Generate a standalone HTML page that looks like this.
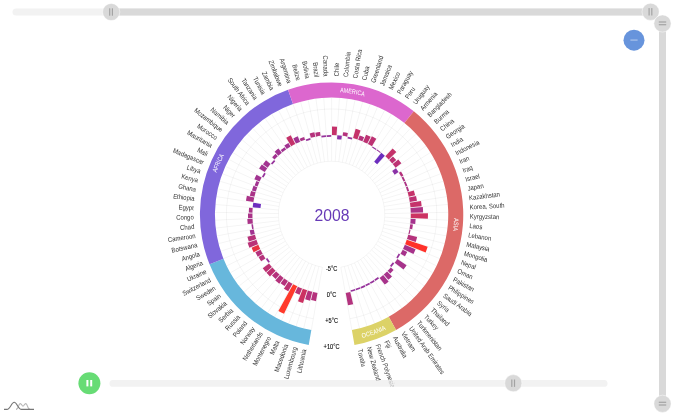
<!DOCTYPE html>
<html><head><meta charset="utf-8"><style>
html,body{margin:0;padding:0;background:#fff;overflow:hidden;}
svg{display:block;font-family:"Liberation Sans",sans-serif;-webkit-font-smoothing:antialiased;will-change:transform;}
</style></head><body>
<svg width="678" height="415" viewBox="0 0 678 415"><defs><clipPath id="chartclip"><rect x="0" y="0" width="678" height="386.6"/></clipPath></defs>
<g transform="translate(0,0.25) translate(331.6,214.4) scale(1,1.0045) translate(-331.6,-214.4)"><g fill="none" stroke="#000" stroke-opacity="0.055" stroke-width="0.8"><path d="M322.36,266.79A53.20,53.20 0 1 1 340.84,266.79"/><path d="M317.85,292.40A79.20,79.20 0 1 1 345.35,292.40"/><path d="M313.33,318.00A105.20,105.20 0 1 1 349.87,318.00"/><line x1="322.36" y1="266.79" x2="311.34" y2="329.28"/><line x1="318.85" y1="266.05" x2="303.65" y2="327.65"/><line x1="315.40" y1="265.07" x2="296.08" y2="325.51"/><line x1="312.02" y1="263.87" x2="288.68" y2="322.87"/><line x1="308.73" y1="262.44" x2="281.46" y2="319.73"/><line x1="305.55" y1="260.79" x2="274.48" y2="316.11"/><line x1="302.48" y1="258.93" x2="267.76" y2="312.03"/><line x1="299.55" y1="256.86" x2="261.32" y2="307.51"/><line x1="296.76" y1="254.61" x2="255.21" y2="302.56"/><line x1="294.13" y1="252.17" x2="249.44" y2="297.21"/><line x1="291.67" y1="249.56" x2="244.05" y2="291.49"/><line x1="289.39" y1="246.79" x2="239.06" y2="285.41"/><line x1="287.31" y1="243.87" x2="234.48" y2="279.01"/><line x1="285.42" y1="240.82" x2="230.35" y2="272.32"/><line x1="283.75" y1="237.65" x2="226.67" y2="265.37"/><line x1="282.29" y1="234.37" x2="223.48" y2="258.18"/><line x1="281.06" y1="231.00" x2="220.77" y2="250.80"/><line x1="280.05" y1="227.56" x2="218.57" y2="243.25"/><line x1="279.28" y1="224.05" x2="216.89" y2="235.57"/><line x1="278.75" y1="220.51" x2="215.72" y2="227.79"/><line x1="278.46" y1="216.93" x2="215.08" y2="219.95"/><line x1="278.41" y1="213.34" x2="214.97" y2="212.09"/><line x1="278.60" y1="209.76" x2="215.39" y2="204.23"/><line x1="279.04" y1="206.20" x2="216.34" y2="196.43"/><line x1="279.71" y1="202.68" x2="217.82" y2="188.70"/><line x1="280.61" y1="199.21" x2="219.81" y2="181.09"/><line x1="281.75" y1="195.81" x2="222.30" y2="173.64"/><line x1="283.12" y1="192.49" x2="225.30" y2="166.36"/><line x1="284.71" y1="189.28" x2="228.78" y2="159.31"/><line x1="286.51" y1="186.17" x2="232.72" y2="152.51"/><line x1="288.51" y1="183.20" x2="237.12" y2="145.98"/><line x1="290.71" y1="180.37" x2="241.94" y2="139.77"/><line x1="293.10" y1="177.69" x2="247.18" y2="133.90"/><line x1="295.66" y1="175.18" x2="252.79" y2="128.40"/><line x1="298.38" y1="172.84" x2="258.77" y2="123.28"/><line x1="301.26" y1="170.70" x2="265.07" y2="118.58"/><line x1="304.27" y1="168.76" x2="271.68" y2="114.32"/><line x1="307.41" y1="167.02" x2="278.56" y2="110.51"/><line x1="310.66" y1="165.50" x2="285.68" y2="107.17"/><line x1="314.00" y1="164.20" x2="293.01" y2="104.32"/><line x1="317.42" y1="163.12" x2="300.52" y2="101.97"/><line x1="320.91" y1="162.28" x2="308.16" y2="100.13"/><line x1="324.45" y1="161.68" x2="315.92" y2="98.81"/><line x1="328.02" y1="161.32" x2="323.74" y2="98.02"/><line x1="331.60" y1="161.20" x2="331.60" y2="97.75"/><line x1="335.18" y1="161.32" x2="339.46" y2="98.02"/><line x1="338.75" y1="161.68" x2="347.28" y2="98.81"/><line x1="342.29" y1="162.28" x2="355.04" y2="100.13"/><line x1="345.78" y1="163.12" x2="362.68" y2="101.97"/><line x1="349.20" y1="164.20" x2="370.19" y2="104.32"/><line x1="352.54" y1="165.50" x2="377.52" y2="107.17"/><line x1="355.79" y1="167.02" x2="384.64" y2="110.51"/><line x1="358.93" y1="168.76" x2="391.52" y2="114.32"/><line x1="361.94" y1="170.70" x2="398.13" y2="118.58"/><line x1="364.82" y1="172.84" x2="404.43" y2="123.28"/><line x1="367.54" y1="175.18" x2="410.41" y2="128.40"/><line x1="370.10" y1="177.69" x2="416.02" y2="133.90"/><line x1="372.49" y1="180.37" x2="421.26" y2="139.77"/><line x1="374.69" y1="183.20" x2="426.08" y2="145.98"/><line x1="376.69" y1="186.17" x2="430.48" y2="152.51"/><line x1="378.49" y1="189.28" x2="434.42" y2="159.31"/><line x1="380.08" y1="192.49" x2="437.90" y2="166.36"/><line x1="381.45" y1="195.81" x2="440.90" y2="173.64"/><line x1="382.59" y1="199.21" x2="443.39" y2="181.09"/><line x1="383.49" y1="202.68" x2="445.38" y2="188.70"/><line x1="384.16" y1="206.20" x2="446.86" y2="196.43"/><line x1="384.60" y1="209.76" x2="447.81" y2="204.23"/><line x1="384.79" y1="213.34" x2="448.23" y2="212.09"/><line x1="384.74" y1="216.93" x2="448.12" y2="219.95"/><line x1="384.45" y1="220.51" x2="447.48" y2="227.79"/><line x1="383.92" y1="224.05" x2="446.31" y2="235.57"/><line x1="383.15" y1="227.56" x2="444.63" y2="243.25"/><line x1="382.14" y1="231.00" x2="442.43" y2="250.80"/><line x1="380.91" y1="234.37" x2="439.72" y2="258.18"/><line x1="379.45" y1="237.65" x2="436.53" y2="265.37"/><line x1="377.78" y1="240.82" x2="432.85" y2="272.32"/><line x1="375.89" y1="243.87" x2="428.72" y2="279.01"/><line x1="373.81" y1="246.79" x2="424.14" y2="285.41"/><line x1="371.53" y1="249.56" x2="419.15" y2="291.49"/><line x1="369.07" y1="252.17" x2="413.76" y2="297.21"/><line x1="366.44" y1="254.61" x2="407.99" y2="302.56"/><line x1="363.65" y1="256.86" x2="401.88" y2="307.51"/><line x1="360.72" y1="258.93" x2="395.44" y2="312.03"/><line x1="357.65" y1="260.79" x2="388.72" y2="316.11"/><line x1="354.47" y1="262.44" x2="381.74" y2="319.73"/><line x1="351.18" y1="263.87" x2="374.52" y2="322.87"/><line x1="347.80" y1="265.07" x2="367.12" y2="325.51"/><line x1="344.35" y1="266.05" x2="359.55" y2="327.65"/><line x1="340.84" y1="266.79" x2="351.86" y2="329.28"/></g>
<g><path d="M316.00,300.52A87.52000000000001,87.52000000000001 0 0 1 311.03,299.47L312.99,291.38A79.2,79.2 0 0 0 317.48,292.33Z" fill="#b5327c"/><path d="M310.04,300.03A88.3,88.3 0 0 1 305.11,298.63L307.84,289.95A79.2,79.2 0 0 0 312.26,291.20Z" fill="#b5327c"/><path d="M303.03,302.34A92.46000000000001,92.46000000000001 0 0 1 297.98,300.53L302.80,288.18A79.2,79.2 0 0 0 307.13,289.72Z" fill="#cc3262"/><path d="M299.59,294.18A85.96000000000001,85.96000000000001 0 0 1 295.02,292.19L297.90,286.07A79.2,79.2 0 0 0 302.11,287.90Z" fill="#bd3273"/><path d="M284.02,313.16A109.62,109.62 0 0 1 278.38,310.23L293.15,283.64A79.2,79.2 0 0 0 297.22,285.75Z" fill="#ff3a2b"/><path d="M288.26,290.73A87.78,87.78 0 0 1 283.91,288.09L288.57,280.89A79.2,79.2 0 0 0 292.49,283.27Z" fill="#bd3273"/><path d="M284.65,285.47A85.18,85.18 0 0 1 280.60,282.63L284.19,277.84A79.2,79.2 0 0 0 287.94,280.48Z" fill="#b5327c"/><path d="M279.21,283.14A86.428,86.428 0 0 1 275.31,279.98L280.02,274.50A79.2,79.2 0 0 0 283.59,277.39Z" fill="#b5327c"/><path d="M275.62,278.39A85.024,85.024 0 0 1 272.00,275.04L276.09,270.89A79.2,79.2 0 0 0 279.45,274.01Z" fill="#b5327c"/><path d="M269.89,276.02A87.208,87.208 0 0 1 266.42,272.34L272.41,267.02A79.2,79.2 0 0 0 275.55,270.36Z" fill="#bd3273"/><path d="M265.92,271.69A87.156,87.156 0 0 1 262.71,267.78L268.99,262.91A79.2,79.2 0 0 0 271.91,266.46Z" fill="#bd3273"/><path d="M268.54,262.32A79.2,79.2 0 0 1 265.87,258.58L267.29,257.62A77.48400000000001,77.48400000000001 0 0 0 269.91,261.28Z" fill="#97339c"/><path d="M261.11,260.82A84.4,84.4 0 0 1 258.54,256.66L263.04,254.05A79.2,79.2 0 0 0 265.45,257.96Z" fill="#b5327c"/><path d="M257.69,256.22A84.92,84.92 0 0 1 255.39,251.87L260.52,249.34A79.2,79.2 0 0 0 262.67,253.40Z" fill="#b5327c"/><path d="M253.63,251.82A86.48,86.48 0 0 1 251.60,247.24L258.33,244.47A79.2,79.2 0 0 0 260.20,248.67Z" fill="#e83142"/><path d="M249.36,247.25A88.56,88.56 0 0 1 247.59,242.43L256.47,239.47A79.2,79.2 0 0 0 258.05,243.78Z" fill="#ba3277"/><path d="M248.82,241.16A87.0,87.0 0 0 1 247.40,236.31L254.95,234.35A79.2,79.2 0 0 0 256.24,238.76Z" fill="#b7327a"/><path d="M250.73,234.63A83.36,83.36 0 0 1 249.70,229.91L253.78,229.14A79.2,79.2 0 0 0 254.77,233.62Z" fill="#a23391"/><path d="M252.11,228.68A80.76,80.76 0 0 1 251.42,224.05L252.97,223.86A79.2,79.2 0 0 0 253.65,228.40Z" fill="#a23391"/><path d="M247.71,223.69A84.4,84.4 0 0 1 247.32,218.81L252.51,218.54A79.2,79.2 0 0 0 252.88,223.12Z" fill="#aa3388"/><path d="M248.06,217.98A83.62,83.62 0 0 1 247.99,213.14L252.41,213.20A79.2,79.2 0 0 0 252.47,217.80Z" fill="#aa3388"/><path d="M248.78,212.37A82.84,82.84 0 0 1 249.04,207.57L252.67,207.87A79.2,79.2 0 0 0 252.42,212.46Z" fill="#aa3388"/><path d="M252.73,207.12A79.2,79.2 0 0 1 253.29,202.57L261.00,203.73A71.4,71.4 0 0 0 260.50,207.84Z" fill="#6c2dbe"/><path d="M245.96,200.63A86.74000000000001,86.74000000000001 0 0 1 246.90,195.69L254.26,197.32A79.2,79.2 0 0 0 253.40,201.83Z" fill="#aa3388"/><path d="M249.87,195.53A83.88000000000001,83.88000000000001 0 0 1 251.10,190.83L255.59,192.14A79.2,79.2 0 0 0 254.43,196.59Z" fill="#aa3388"/><path d="M251.97,190.27A83.20400000000001,83.20400000000001 0 0 1 253.51,185.69L257.26,187.07A79.2,79.2 0 0 0 255.80,191.43Z" fill="#a23391"/><path d="M254.61,185.27A82.32000000000001,82.32000000000001 0 0 1 256.42,180.85L259.27,182.13A79.2,79.2 0 0 0 257.53,186.37Z" fill="#a23391"/><path d="M254.33,179.04A84.97200000000001,84.97200000000001 0 0 1 256.51,174.62L261.61,177.33A79.2,79.2 0 0 0 259.58,181.44Z" fill="#a23391"/><path d="M261.97,176.67A79.2,79.2 0 0 1 264.27,172.69L265.73,173.60A77.48400000000001,77.48400000000001 0 0 0 263.47,177.48Z" fill="#97339c"/><path d="M259.04,168.50A85.85600000000001,85.85600000000001 0 0 1 261.82,164.37L267.23,168.25A79.2,79.2 0 0 0 264.67,172.06Z" fill="#a23391"/><path d="M262.97,164.21A85.024,85.024 0 0 1 266.00,160.32L270.49,164.02A79.2,79.2 0 0 0 267.67,167.65Z" fill="#a23391"/><path d="M270.97,163.45A79.2,79.2 0 0 1 274.02,160.02L275.27,161.20A77.48400000000001,77.48400000000001 0 0 0 272.28,164.55Z" fill="#97339c"/><path d="M272.14,157.17A82.528,82.528 0 0 1 275.56,153.82L277.82,156.26A79.2,79.2 0 0 0 274.54,159.48Z" fill="#a23391"/><path d="M274.66,151.67A84.712,84.712 0 0 1 278.40,148.48L281.86,152.77A79.2,79.2 0 0 0 278.37,155.76Z" fill="#a23391"/><path d="M280.73,150.14A81.956,81.956 0 0 1 284.54,147.30L286.12,149.56A79.2,79.2 0 0 0 282.44,152.30Z" fill="#a23391"/><path d="M284.32,145.62A83.464,83.464 0 0 1 288.39,142.99L290.60,146.64A79.2,79.2 0 0 0 286.74,149.13Z" fill="#a23391"/><path d="M286.20,137.76A89.08,89.08 0 0 1 290.72,135.25L295.26,144.03A79.2,79.2 0 0 0 291.24,146.26Z" fill="#c5326a"/><path d="M293.30,138.49A85.024,85.024 0 0 1 297.76,136.40L300.08,141.74A79.2,79.2 0 0 0 295.92,143.69Z" fill="#a23391"/><path d="M299.67,138.86A82.00800000000001,82.00800000000001 0 0 1 304.11,137.14L305.05,139.78A79.2,79.2 0 0 0 300.77,141.45Z" fill="#aa3388"/><path d="M305.75,139.54A79.2,79.2 0 0 1 310.14,138.16L310.60,139.82A77.48400000000001,77.48400000000001 0 0 0 306.31,141.16Z" fill="#97339c"/><path d="M309.67,133.60A83.724,83.724 0 0 1 314.39,132.46L315.32,136.89A79.2,79.2 0 0 0 310.86,137.96Z" fill="#b5327c"/><path d="M315.29,132.92A83.10000000000001,83.10000000000001 0 0 1 320.04,132.11L320.58,135.97A79.2,79.2 0 0 0 316.05,136.74Z" fill="#b5327c"/><path d="M321.32,135.87A79.2,79.2 0 0 1 325.89,135.41L326.01,137.12A77.48400000000001,77.48400000000001 0 0 0 321.54,137.57Z" fill="#97339c"/><path d="M326.64,135.36A79.2,79.2 0 0 1 331.23,135.20L331.23,136.92A77.48400000000001,77.48400000000001 0 0 0 326.74,137.07Z" fill="#97339c"/><path d="M332.01,126.72A87.676,87.676 0 0 1 337.09,126.90L336.56,135.36A79.2,79.2 0 0 0 331.97,135.20Z" fill="#c5326a"/><path d="M337.31,135.41A79.2,79.2 0 0 1 341.88,135.87L341.38,139.69A75.352,75.352 0 0 0 337.03,139.24Z" fill="#8a31a6"/><path d="M343.14,132.26A82.944,82.944 0 0 1 347.88,133.07L347.15,136.74A79.2,79.2 0 0 0 342.62,135.97Z" fill="#b5327c"/><path d="M347.88,136.89A79.2,79.2 0 0 1 352.34,137.96L351.89,139.62A77.48400000000001,77.48400000000001 0 0 0 347.53,138.57Z" fill="#97339c"/><path d="M355.64,129.00A88.71600000000001,88.71600000000001 0 0 1 360.55,130.54L357.45,139.54A79.2,79.2 0 0 0 353.06,138.16Z" fill="#c5326a"/><path d="M359.62,135.67A83.568,83.568 0 0 1 364.13,137.42L362.43,141.45A79.2,79.2 0 0 0 358.15,139.78Z" fill="#b5327c"/><path d="M366.12,134.83A86.74000000000001,86.74000000000001 0 0 1 370.68,136.96L367.28,143.69A79.2,79.2 0 0 0 363.12,141.74Z" fill="#bd3273"/><path d="M371.88,136.41A87.78,87.78 0 0 1 376.33,138.87L371.96,146.26A79.2,79.2 0 0 0 367.94,144.03Z" fill="#bd3273"/><path d="M372.60,146.64A79.2,79.2 0 0 1 376.46,149.13L375.87,149.99A78.16,78.16 0 0 0 372.07,147.53Z" fill="#97339c"/><path d="M377.08,149.56A79.2,79.2 0 0 1 380.76,152.30L380.11,153.12A78.16,78.16 0 0 0 376.48,150.41Z" fill="#97339c"/><path d="M381.34,152.77A79.2,79.2 0 0 1 384.83,155.76L377.14,164.23A67.76,67.76 0 0 0 374.16,161.67Z" fill="#6c2dbe"/><path d="M392.62,148.44A89.86,89.86 0 0 1 396.34,152.08L388.66,159.48A79.2,79.2 0 0 0 385.38,156.26Z" fill="#c5326a"/><path d="M392.96,156.45A84.4,84.4 0 0 1 396.21,160.10L392.23,163.45A79.2,79.2 0 0 0 389.18,160.02Z" fill="#bd3273"/><path d="M398.33,159.39A86.48,86.48 0 0 1 401.40,163.35L395.53,167.65A79.2,79.2 0 0 0 392.71,164.02Z" fill="#bd3273"/><path d="M395.97,168.25A79.2,79.2 0 0 1 398.53,172.06L394.58,174.56A74.52,74.52 0 0 0 392.16,170.98Z" fill="#8a31a6"/><path d="M401.01,171.41A81.644,81.644 0 0 1 403.38,175.50L401.23,176.67A79.2,79.2 0 0 0 398.93,172.69Z" fill="#b5327c"/><path d="M403.20,176.47A81.02,81.02 0 0 1 405.27,180.69L403.62,181.44A79.2,79.2 0 0 0 401.59,177.33Z" fill="#ad3385"/><path d="M405.59,181.38A81.02,81.02 0 0 1 407.38,185.73L405.67,186.37A79.2,79.2 0 0 0 403.93,182.13Z" fill="#ad3385"/><path d="M407.64,186.45A81.02,81.02 0 0 1 409.14,190.90L407.40,191.43A79.2,79.2 0 0 0 405.94,187.07Z" fill="#ad3385"/><path d="M413.85,190.32A85.7,85.7 0 0 1 415.10,195.13L408.77,196.59A79.2,79.2 0 0 0 407.61,192.14Z" fill="#c5326a"/><path d="M416.04,195.75A86.48,86.48 0 0 1 416.98,200.67L409.80,201.83A79.2,79.2 0 0 0 408.94,197.32Z" fill="#bd3273"/><path d="M421.02,200.89A90.432,90.432 0 0 1 421.65,206.09L410.47,207.12A79.2,79.2 0 0 0 409.91,202.57Z" fill="#c5326a"/><path d="M422.81,206.85A91.524,91.524 0 0 1 423.10,212.15L410.78,212.46A79.2,79.2 0 0 0 410.53,207.87Z" fill="#ad3385"/><path d="M427.95,212.94A96.36,96.36 0 0 1 427.87,218.53L410.73,217.80A79.2,79.2 0 0 0 410.79,213.20Z" fill="#cc3262"/><path d="M415.62,218.80A84.14,84.14 0 0 1 415.23,223.66L410.32,223.12A79.2,79.2 0 0 0 410.69,218.54Z" fill="#a5338d"/><path d="M412.92,224.18A81.904,81.904 0 0 1 412.21,228.88L409.55,228.40A79.2,79.2 0 0 0 410.23,223.86Z" fill="#ad3385"/><path d="M410.54,229.35A80.34400000000001,80.34400000000001 0 0 1 409.54,233.90L408.43,233.62A79.2,79.2 0 0 0 409.42,229.14Z" fill="#ad3385"/><path d="M417.15,236.67A88.404,88.404 0 0 1 415.72,241.59L406.96,238.76A79.2,79.2 0 0 0 408.25,234.35Z" fill="#b5327c"/><path d="M427.69,246.46A101.30000000000001,101.30000000000001 0 0 1 425.67,251.98L405.15,243.78A79.2,79.2 0 0 0 406.73,239.47Z" fill="#ff322a"/><path d="M415.60,248.88A90.796,90.796 0 0 1 413.46,253.69L403.00,248.67A79.2,79.2 0 0 0 404.87,244.47Z" fill="#a7338b"/><path d="M407.20,251.57A84.244,84.244 0 0 1 404.92,255.89L400.53,253.40A79.2,79.2 0 0 0 402.68,249.34Z" fill="#a7338b"/><path d="M400.16,254.05A79.2,79.2 0 0 1 397.75,257.96L396.31,257.01A77.48400000000001,77.48400000000001 0 0 0 398.67,253.19Z" fill="#97339c"/><path d="M406.61,264.82A90.38,90.38 0 0 1 403.56,269.08L394.66,262.32A79.2,79.2 0 0 0 397.33,258.58Z" fill="#a7338b"/><path d="M394.21,262.91A79.2,79.2 0 0 1 391.29,266.46L390.00,265.33A77.48400000000001,77.48400000000001 0 0 0 392.85,261.86Z" fill="#97339c"/><path d="M393.59,269.51A82.944,82.944 0 0 1 390.29,273.01L387.65,270.36A79.2,79.2 0 0 0 390.79,267.02Z" fill="#a7338b"/><path d="M392.00,275.86A86.168,86.168 0 0 1 388.33,279.25L383.75,274.01A79.2,79.2 0 0 0 387.11,270.89Z" fill="#a7338b"/><path d="M388.63,280.85A87.572,87.572 0 0 1 384.69,284.05L379.61,277.39A79.2,79.2 0 0 0 383.18,274.50Z" fill="#a7338b"/><path d="M379.01,277.84A79.2,79.2 0 0 1 375.26,280.48L374.31,279.05A77.48400000000001,77.48400000000001 0 0 0 377.99,276.46Z" fill="#97339c"/><path d="M374.63,280.89A79.2,79.2 0 0 1 370.71,283.27L369.86,281.78A77.48400000000001,77.48400000000001 0 0 0 373.70,279.45Z" fill="#97339c"/><path d="M370.05,283.64A79.2,79.2 0 0 1 365.98,285.75L365.23,284.20A77.48400000000001,77.48400000000001 0 0 0 369.22,282.14Z" fill="#97339c"/><path d="M365.30,286.07A79.2,79.2 0 0 1 361.09,287.90L360.45,286.31A77.48400000000001,77.48400000000001 0 0 0 364.57,284.52Z" fill="#97339c"/><path d="M360.40,288.18A79.2,79.2 0 0 1 356.07,289.72L355.54,288.09A77.48400000000001,77.48400000000001 0 0 0 359.77,286.58Z" fill="#97339c"/><path d="M355.36,289.95A79.2,79.2 0 0 1 350.94,291.20L350.52,289.54A77.48400000000001,77.48400000000001 0 0 0 354.84,288.32Z" fill="#97339c"/><path d="M353.17,303.61A91.784,91.784 0 0 1 347.96,304.71L345.72,292.33A79.2,79.2 0 0 0 350.21,291.38Z" fill="#b3337e"/></g>
<path d="M308.74,344.07A131.67,131.67 0 0 1 209.56,263.82L223.48,258.18A116.65,116.65 0 0 0 311.34,329.28Z" fill="#67b7dc"/>
<path d="M209.56,263.82A131.67,131.67 0 0 1 288.04,90.14L293.01,104.32A116.65,116.65 0 0 0 223.48,258.18Z" fill="#8067dc"/>
<path d="M288.04,90.14A131.67,131.67 0 0 1 413.81,111.55L404.43,123.28A116.65,116.65 0 0 0 293.01,104.32Z" fill="#dc67ce"/>
<path d="M413.81,111.55A131.67,131.67 0 0 1 396.07,329.20L388.72,316.11A116.65,116.65 0 0 0 404.43,123.28Z" fill="#dc6967"/>
<path d="M396.07,329.20A131.67,131.67 0 0 1 354.46,344.07L351.86,329.28A116.65,116.65 0 0 0 388.72,316.11Z" fill="#dcd267"/></g>
<g clip-path="url(#chartclip)"><text transform="translate(217.03,171.09) rotate(290.71) scale(0.78,1)" font-size="6.6" fill="#fff" text-anchor="middle">A</text>
<text transform="translate(218.23,168.03) rotate(292.24) scale(0.78,1)" font-size="6.6" fill="#fff" text-anchor="middle">F</text>
<text transform="translate(219.57,164.88) rotate(293.85) scale(0.78,1)" font-size="6.6" fill="#fff" text-anchor="middle">R</text>
<text transform="translate(220.64,162.53) rotate(295.05) scale(0.78,1)" font-size="6.6" fill="#fff" text-anchor="middle">I</text>
<text transform="translate(221.75,160.21) rotate(296.26) scale(0.78,1)" font-size="6.6" fill="#fff" text-anchor="middle">C</text>
<text transform="translate(223.38,157.03) rotate(297.93) scale(0.78,1)" font-size="6.6" fill="#fff" text-anchor="middle">A</text>
<text transform="translate(341.71,92.33) rotate(364.74) scale(0.82,1)" font-size="6.6" fill="#fff" text-anchor="middle">A</text>
<text transform="translate(345.75,92.74) rotate(366.63) scale(0.82,1)" font-size="6.6" fill="#fff" text-anchor="middle">M</text>
<text transform="translate(349.78,93.27) rotate(368.53) scale(0.82,1)" font-size="6.6" fill="#fff" text-anchor="middle">E</text>
<text transform="translate(353.48,93.89) rotate(370.29) scale(0.82,1)" font-size="6.6" fill="#fff" text-anchor="middle">R</text>
<text transform="translate(356.14,94.40) rotate(371.56) scale(0.82,1)" font-size="6.6" fill="#fff" text-anchor="middle">I</text>
<text transform="translate(358.79,94.97) rotate(372.82) scale(0.82,1)" font-size="6.6" fill="#fff" text-anchor="middle">C</text>
<text transform="translate(362.44,95.86) rotate(374.58) scale(0.82,1)" font-size="6.6" fill="#fff" text-anchor="middle">A</text>
<text transform="translate(453.97,219.78) rotate(452.52) scale(0.86,1)" font-size="6.6" fill="#fff" text-anchor="middle">A</text>
<text transform="translate(453.74,223.56) rotate(454.29) scale(0.86,1)" font-size="6.6" fill="#fff" text-anchor="middle">S</text>
<text transform="translate(453.51,226.23) rotate(455.54) scale(0.86,1)" font-size="6.6" fill="#fff" text-anchor="middle">I</text>
<text transform="translate(453.22,228.90) rotate(456.80) scale(0.86,1)" font-size="6.6" fill="#fff" text-anchor="middle">A</text>
<text transform="translate(364.44,337.33) rotate(345.04) scale(0.85,1)" font-size="6.6" fill="#fff" text-anchor="middle">O</text>
<text transform="translate(368.48,336.17) rotate(343.15) scale(0.85,1)" font-size="6.6" fill="#fff" text-anchor="middle">C</text>
<text transform="translate(372.19,334.99) rotate(341.39) scale(0.85,1)" font-size="6.6" fill="#fff" text-anchor="middle">E</text>
<text transform="translate(375.72,333.74) rotate(339.71) scale(0.85,1)" font-size="6.6" fill="#fff" text-anchor="middle">A</text>
<text transform="translate(379.36,332.33) rotate(337.95) scale(0.85,1)" font-size="6.6" fill="#fff" text-anchor="middle">N</text>
<text transform="translate(381.95,331.25) rotate(336.69) scale(0.85,1)" font-size="6.6" fill="#fff" text-anchor="middle">I</text>
<text transform="translate(384.37,330.18) rotate(335.50) scale(0.85,1)" font-size="6.6" fill="#fff" text-anchor="middle">A</text>
<g font-size="6.8" fill="#333"><text transform="translate(303.16,349.00) rotate(-78.07) scale(0.88,1)" text-anchor="end" dy="3.25">Lithuania</text><text transform="translate(294.15,346.77) rotate(-74.20) scale(0.88,1)" text-anchor="end" dy="3.25">Luxembourg</text><text transform="translate(285.32,343.94) rotate(-70.34) scale(0.88,1)" text-anchor="end" dy="3.25">Macedonia</text><text transform="translate(276.70,340.53) rotate(-66.48) scale(0.88,1)" text-anchor="end" dy="3.25">Malta</text><text transform="translate(268.32,336.55) rotate(-62.61) scale(0.88,1)" text-anchor="end" dy="3.25">Montenegro</text><text transform="translate(260.23,332.01) rotate(-58.75) scale(0.88,1)" text-anchor="end" dy="3.25">Netherlands</text><text transform="translate(252.47,326.94) rotate(-54.89) scale(0.88,1)" text-anchor="end" dy="3.25">Norway</text><text transform="translate(245.06,321.36) rotate(-51.02) scale(0.88,1)" text-anchor="end" dy="3.25">Poland</text><text transform="translate(238.04,315.29) rotate(-47.16) scale(0.88,1)" text-anchor="end" dy="3.25">Russia</text><text transform="translate(231.44,308.77) rotate(-43.30) scale(0.88,1)" text-anchor="end" dy="3.25">Serbia</text><text transform="translate(225.30,301.82) rotate(-39.43) scale(0.88,1)" text-anchor="end" dy="3.25">Slovakia</text><text transform="translate(219.64,294.47) rotate(-35.57) scale(0.88,1)" text-anchor="end" dy="3.25">Spain</text><text transform="translate(214.48,286.75) rotate(-31.70) scale(0.88,1)" text-anchor="end" dy="3.25">Sweden</text><text transform="translate(209.85,278.70) rotate(-27.84) scale(0.88,1)" text-anchor="end" dy="3.25">Switzerland</text><text transform="translate(205.77,270.36) rotate(-23.98) scale(0.88,1)" text-anchor="end" dy="3.25">Ukraine</text><text transform="translate(202.26,261.77) rotate(-20.11) scale(0.88,1)" text-anchor="end" dy="3.25">Algeria</text><text transform="translate(199.34,252.95) rotate(-16.25) scale(0.88,1)" text-anchor="end" dy="3.25">Angola</text><text transform="translate(197.01,243.96) rotate(-12.39) scale(0.88,1)" text-anchor="end" dy="3.25">Botswana</text><text transform="translate(195.29,234.83) rotate(-8.52) scale(0.88,1)" text-anchor="end" dy="3.25">Cameroon</text><text transform="translate(194.20,225.60) rotate(-4.66) scale(0.88,1)" text-anchor="end" dy="3.25">Chad</text><text transform="translate(193.72,216.31) rotate(-0.80) scale(0.88,1)" text-anchor="end" dy="3.25">Congo</text><text transform="translate(193.90,207.02) rotate(3.07) scale(0.88,1)" text-anchor="end" dy="3.25">Egypt</text><text transform="translate(194.71,197.76) rotate(6.93) scale(0.88,1)" text-anchor="end" dy="3.25">Ethiopia</text><text transform="translate(196.14,188.57) rotate(10.80) scale(0.88,1)" text-anchor="end" dy="3.25">Ghana</text><text transform="translate(198.18,179.50) rotate(14.66) scale(0.88,1)" text-anchor="end" dy="3.25">Kenya</text><text transform="translate(200.83,170.59) rotate(18.52) scale(0.88,1)" text-anchor="end" dy="3.25">Libya</text><text transform="translate(204.08,161.87) rotate(22.39) scale(0.88,1)" text-anchor="end" dy="3.25">Madagascar</text><text transform="translate(207.90,153.40) rotate(26.25) scale(0.88,1)" text-anchor="end" dy="3.25">Mali</text><text transform="translate(212.29,145.20) rotate(30.11) scale(0.88,1)" text-anchor="end" dy="3.25">Mauritania</text><text transform="translate(217.22,137.31) rotate(33.98) scale(0.88,1)" text-anchor="end" dy="3.25">Morocco</text><text transform="translate(222.66,129.78) rotate(37.84) scale(0.88,1)" text-anchor="end" dy="3.25">Mozambique</text><text transform="translate(228.61,122.62) rotate(41.70) scale(0.88,1)" text-anchor="end" dy="3.25">Namibia</text><text transform="translate(235.02,115.88) rotate(45.57) scale(0.88,1)" text-anchor="end" dy="3.25">Niger</text><text transform="translate(241.87,109.59) rotate(49.43) scale(0.88,1)" text-anchor="end" dy="3.25">Nigeria</text><text transform="translate(249.13,103.78) rotate(53.30) scale(0.88,1)" text-anchor="end" dy="3.25">South Africa</text><text transform="translate(256.77,98.46) rotate(57.16) scale(0.88,1)" text-anchor="end" dy="3.25">Tanzania</text><text transform="translate(264.74,93.67) rotate(61.02) scale(0.88,1)" text-anchor="end" dy="3.25">Tunisia</text><text transform="translate(273.02,89.43) rotate(64.89) scale(0.88,1)" text-anchor="end" dy="3.25">Zambia</text><text transform="translate(281.57,85.76) rotate(68.75) scale(0.88,1)" text-anchor="end" dy="3.25">Zimbabwe</text><text transform="translate(290.35,82.67) rotate(72.61) scale(0.88,1)" text-anchor="end" dy="3.25">Argentina</text><text transform="translate(299.32,80.17) rotate(76.48) scale(0.88,1)" text-anchor="end" dy="3.25">Belize</text><text transform="translate(308.43,78.29) rotate(80.34) scale(0.88,1)" text-anchor="end" dy="3.25">Bolivia</text><text transform="translate(317.66,77.03) rotate(84.20) scale(0.88,1)" text-anchor="end" dy="3.25">Brazil</text><text transform="translate(326.94,76.39) rotate(88.07) scale(0.88,1)" text-anchor="end" dy="3.25">Canada</text><text transform="translate(336.26,76.37) rotate(-88.07) scale(0.88,1)" text-anchor="start" dy="2.45">Chile</text><text transform="translate(345.55,76.99) rotate(-84.20) scale(0.88,1)" text-anchor="start" dy="2.45">Colombia</text><text transform="translate(354.78,78.22) rotate(-80.34) scale(0.88,1)" text-anchor="start" dy="2.45">Costa Rica</text><text transform="translate(363.90,80.08) rotate(-76.48) scale(0.88,1)" text-anchor="start" dy="2.45">Cuba</text><text transform="translate(372.88,82.55) rotate(-72.61) scale(0.88,1)" text-anchor="start" dy="2.45">Greenland</text><text transform="translate(381.68,85.62) rotate(-68.75) scale(0.88,1)" text-anchor="start" dy="2.45">Jamaica</text><text transform="translate(390.25,89.28) rotate(-64.89) scale(0.88,1)" text-anchor="start" dy="2.45">Mexico</text><text transform="translate(398.55,93.50) rotate(-61.02) scale(0.88,1)" text-anchor="start" dy="2.45">Paraguay</text><text transform="translate(406.55,98.28) rotate(-57.16) scale(0.88,1)" text-anchor="start" dy="2.45">Peru</text><text transform="translate(414.21,103.59) rotate(-53.30) scale(0.88,1)" text-anchor="start" dy="2.45">Uruguay</text><text transform="translate(421.50,109.40) rotate(-49.43) scale(0.88,1)" text-anchor="start" dy="2.45">Armenia</text><text transform="translate(428.38,115.69) rotate(-45.57) scale(0.88,1)" text-anchor="start" dy="2.45">Bangladesh</text><text transform="translate(434.81,122.42) rotate(-41.70) scale(0.88,1)" text-anchor="start" dy="2.45">Burma</text><text transform="translate(440.78,129.58) rotate(-37.84) scale(0.88,1)" text-anchor="start" dy="2.45">China</text><text transform="translate(446.26,137.13) rotate(-33.98) scale(0.88,1)" text-anchor="start" dy="2.45">Georgia</text><text transform="translate(451.21,145.03) rotate(-30.11) scale(0.88,1)" text-anchor="start" dy="2.45">India</text><text transform="translate(455.62,153.24) rotate(-26.25) scale(0.88,1)" text-anchor="start" dy="2.45">Indonesia</text><text transform="translate(459.46,161.73) rotate(-22.39) scale(0.88,1)" text-anchor="start" dy="2.45">Iran</text><text transform="translate(462.73,170.47) rotate(-18.52) scale(0.88,1)" text-anchor="start" dy="2.45">Iraq</text><text transform="translate(465.39,179.40) rotate(-14.66) scale(0.88,1)" text-anchor="start" dy="2.45">Israel</text><text transform="translate(467.45,188.50) rotate(-10.80) scale(0.88,1)" text-anchor="start" dy="2.45">Japan</text><text transform="translate(468.89,197.71) rotate(-6.93) scale(0.88,1)" text-anchor="start" dy="2.45">Kazakhstan</text><text transform="translate(469.70,207.00) rotate(-3.07) scale(0.88,1)" text-anchor="start" dy="2.45">Korea, South</text><text transform="translate(469.88,216.32) rotate(0.80) scale(0.88,1)" text-anchor="start" dy="2.45">Kyrgyzstan</text><text transform="translate(469.40,225.63) rotate(4.66) scale(0.88,1)" text-anchor="start" dy="2.45">Laos</text><text transform="translate(468.30,234.88) rotate(8.52) scale(0.88,1)" text-anchor="start" dy="2.45">Lebanon</text><text transform="translate(466.57,244.04) rotate(12.39) scale(0.88,1)" text-anchor="start" dy="2.45">Malaysia</text><text transform="translate(464.23,253.06) rotate(16.25) scale(0.88,1)" text-anchor="start" dy="2.45">Mongolia</text><text transform="translate(461.29,261.90) rotate(20.11) scale(0.88,1)" text-anchor="start" dy="2.45">Nepal</text><text transform="translate(457.76,270.51) rotate(23.98) scale(0.88,1)" text-anchor="start" dy="2.45">Oman</text><text transform="translate(453.66,278.87) rotate(27.84) scale(0.88,1)" text-anchor="start" dy="2.45">Pakistan</text><text transform="translate(449.01,286.93) rotate(31.70) scale(0.88,1)" text-anchor="start" dy="2.45">Philippines</text><text transform="translate(443.83,294.65) rotate(35.57) scale(0.88,1)" text-anchor="start" dy="2.45">Saudi Arabia</text><text transform="translate(438.14,302.01) rotate(39.43) scale(0.88,1)" text-anchor="start" dy="2.45">Syria</text><text transform="translate(431.97,308.97) rotate(43.30) scale(0.88,1)" text-anchor="start" dy="2.45">Thailand</text><text transform="translate(425.35,315.49) rotate(47.16) scale(0.88,1)" text-anchor="start" dy="2.45">Turkey</text><text transform="translate(418.30,321.55) rotate(51.02) scale(0.88,1)" text-anchor="start" dy="2.45">Turkmenistan</text><text transform="translate(410.87,327.13) rotate(54.89) scale(0.88,1)" text-anchor="start" dy="2.45">United Arab Emirates</text><text transform="translate(403.07,332.19) rotate(58.75) scale(0.88,1)" text-anchor="start" dy="2.45">Vietnam</text><text transform="translate(394.96,336.71) rotate(62.61) scale(0.88,1)" text-anchor="start" dy="2.45">Australia</text><text transform="translate(386.57,340.68) rotate(66.48) scale(0.88,1)" text-anchor="start" dy="2.45">Fiji</text><text transform="translate(377.92,344.07) rotate(70.34) scale(0.88,1)" text-anchor="start" dy="2.45">French Polynesia</text><text transform="translate(369.08,346.87) rotate(74.20) scale(0.88,1)" text-anchor="start" dy="2.45">New Zealand</text><text transform="translate(360.06,349.08) rotate(78.07) scale(0.88,1)" text-anchor="start" dy="2.45">Tuvalu</text></g>
<g font-size="6.3" fill="#000" stroke="#000" stroke-width="0.1"><text x="331.6" y="271.10" text-anchor="middle" transform="translate(331.6,0) scale(0.9,1) translate(-331.6,0)">-5°C</text><text x="331.6" y="297.10" text-anchor="middle" transform="translate(331.6,0) scale(0.9,1) translate(-331.6,0)">0°C</text><text x="331.6" y="323.10" text-anchor="middle" transform="translate(331.6,0) scale(0.9,1) translate(-331.6,0)">+5°C</text><text x="331.6" y="349.10" text-anchor="middle" transform="translate(331.6,0) scale(0.9,1) translate(-331.6,0)">+10°C</text></g>
<text x="332" y="221.1" text-anchor="middle" font-size="17.4" fill="#673AB7" transform="translate(332,0) scale(0.905,1) translate(-332,0)">2008</text></g>
<rect x="12.5" y="8.5" width="646" height="7" rx="3.5" fill="#f2f2f2"/>
<rect x="111" y="8.5" width="540" height="7" fill="#d9d9d9"/>
<rect x="659" y="23.5" width="7" height="380" fill="#d9d9d9"/>
<circle cx="111.2" cy="12" r="8.6" fill="#d9d9d9" stroke="#fff" stroke-opacity="0.6" stroke-width="0.8"/><rect x="109.10" y="8.30" width="1.2" height="7.4" fill="#a3a3a3"/><rect x="111.80" y="8.30" width="1.2" height="7.4" fill="#a3a3a3"/>
<circle cx="650.6" cy="11.8" r="8.6" fill="#d9d9d9" stroke="#fff" stroke-opacity="0.6" stroke-width="0.8"/><rect x="648.50" y="8.10" width="1.2" height="7.4" fill="#a3a3a3"/><rect x="651.20" y="8.10" width="1.2" height="7.4" fill="#a3a3a3"/>
<circle cx="662.5" cy="23.5" r="8.6" fill="#d9d9d9" stroke="#fff" stroke-opacity="0.6" stroke-width="0.8"/><rect y="21.40" x="658.80" height="1.2" width="7.4" fill="#a3a3a3"/><rect y="24.10" x="658.80" height="1.2" width="7.4" fill="#a3a3a3"/>
<circle cx="662.5" cy="403.8" r="8.6" fill="#d9d9d9" stroke="#fff" stroke-opacity="0.6" stroke-width="0.8"/><rect y="401.70" x="658.80" height="1.2" width="7.4" fill="#a3a3a3"/><rect y="404.40" x="658.80" height="1.2" width="7.4" fill="#a3a3a3"/>
<rect x="109.5" y="380" width="498" height="6.8" rx="3.4" fill="#ececec" fill-opacity="0.7"/>
<circle cx="513.3" cy="383.2" r="8.6" fill="#d9d9d9" stroke="#fff" stroke-opacity="0.6" stroke-width="0.8"/><rect x="511.20" y="379.50" width="1.2" height="7.4" fill="#a3a3a3"/><rect x="513.90" y="379.50" width="1.2" height="7.4" fill="#a3a3a3"/>
<circle cx="89.4" cy="383.2" r="11" fill="#67dc75"/>
<rect x="86.4" y="380" width="2" height="6.4" fill="#fff"/><rect x="90.2" y="380" width="2" height="6.4" fill="#fff"/>
<circle cx="634" cy="40.2" r="10.5" fill="#6794dc"/>
<rect x="630.4" y="39.6" width="7.2" height="0.9" fill="#fff" fill-opacity="0.6"/>
<g fill="none" stroke-width="1.1"><path d="M16,409.4 C18.6,409.4 18.4,403.6 20.2,403.6 C21.6,403.6 22,406.2 23,406.2 C24,406.2 24.4,403.6 25.8,403.6 C27.6,403.6 27.4,409.4 30,409.4" stroke="#b5b5b5"/><path d="M4,409.4 L7,409.4 C10.2,409.4 11.4,402.3 14.2,402.3 C17,402.3 18.2,409.4 21.4,409.4 L34,409.4" stroke="#777"/></g>
</svg></body></html>
